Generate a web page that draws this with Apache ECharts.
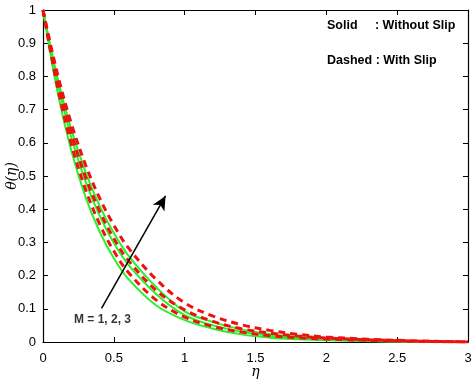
<!DOCTYPE html>
<html><head><meta charset="utf-8">
<script src="https://cdn.jsdelivr.net/npm/echarts@6/dist/echarts.min.js"></script>
<style>html,body{margin:0;padding:0;background:#fff}#c{width:474px;height:387px}</style>
</head><body><div id="c"></div>
<script>
const eta = [0, 0.1, 0.2, 0.3, 0.4, 0.5, 0.6, 0.8, 1.0, 1.2, 1.4, 1.6, 1.8, 2.0, 2.5, 3.0];
const solidM1 = [1, 0.759, 0.576, 0.437, 0.332, 0.252, 0.191, 0.110, 0.066, 0.040, 0.023, 0.013, 0.008, 0.005, 0.001, 0];
const solidM2 = [1, 0.785, 0.616, 0.484, 0.380, 0.298, 0.234, 0.144, 0.081, 0.050, 0.031, 0.019, 0.012, 0.007, 0.002, 0];
const solidM3 = [1, 0.800, 0.640, 0.512, 0.410, 0.328, 0.262, 0.165, 0.092, 0.060, 0.038, 0.024, 0.015, 0.009, 0.003, 0];
const dashM1 = [1, 0.772, 0.596, 0.460, 0.355, 0.274, 0.211, 0.126, 0.075, 0.047, 0.030, 0.019, 0.013, 0.009, 0.003, 0];
const dashM2 = [1, 0.792, 0.628, 0.497, 0.394, 0.312, 0.247, 0.155, 0.097, 0.062, 0.040, 0.027, 0.018, 0.012, 0.004, 0];
const dashM3 = [1, 0.811, 0.658, 0.534, 0.433, 0.352, 0.285, 0.188, 0.118, 0.078, 0.052, 0.035, 0.023, 0.015, 0.005, 0];
const xTicks = [0, 0.5, 1, 1.5, 2, 2.5, 3];
const yTicks = [0, 0.1, 0.2, 0.3, 0.4, 0.5, 0.6, 0.7, 0.8, 0.9, 1];
const arrowStart = [0.413, 0.101];
const arrowEnd = [0.865, 0.440];
const mLabelPos = [0.42, 0.068];
const mLabel = 'M = 1, 2, 3';
const note1 = 'Solid     : Without Slip';
const note2 = 'Dashed : With Slip';

const pair = a => eta.map((x, i) => [x, a[i]]);
const font = 'Liberation Sans, Arial, sans-serif';
const green = '#2af02a', red = '#ee1111';
function solid(name, d) {
  return {name, type: 'line', data: pair(d), smooth: 0.35, symbol: 'none',
    lineStyle: {color: green, width: 2}, z: 2};
}
function dashed(name, d) {
  return {name, type: 'line', data: pair(d), smooth: 0.35, symbol: 'none',
    lineStyle: {color: red, width: 3, type: [7, 5]}, z: 3};
}
const axCommon = {
  min: 0, axisLine: {show: true, onZero: false, lineStyle: {color: '#000', width: 1.2}},
  axisTick: {show: true, inside: true, length: 5, lineStyle: {color: '#000'}},
  splitLine: {show: false}
};
const chart = echarts.init(document.getElementById('c'));
chart.setOption({
  animation: false,
  backgroundColor: '#fff',
  grid: {left: 43, right: 6, top: 10, bottom: 45, containLabel: false, outerBoundsMode: 'none'},
  xAxis: [
    Object.assign({}, axCommon, {type: 'value', max: 3, interval: 0.5, position: 'bottom',
      axisLabel: {color: '#000', fontSize: 13, fontFamily: font, margin: 10,
        formatter: v => xTicks.includes(v) ? String(v) : ''},
      name: 'η', nameLocation: 'middle', nameGap: 23, nameMoveOverlap: false,
      nameTextStyle: {color: '#000', fontSize: 14, fontStyle: 'italic', fontFamily: 'DejaVu Serif, serif'}}),
    Object.assign({}, axCommon, {type: 'value', max: 3, interval: 0.5, position: 'top', axisLabel: {show: false}})
  ],
  yAxis: [
    Object.assign({}, axCommon, {type: 'value', max: 1, interval: 0.1, position: 'left',
      axisLabel: {color: '#000', fontSize: 13, fontFamily: font, margin: 7,
        formatter: v => { const t = yTicks.find(y => Math.abs(y - v) < 1e-6); return t === undefined ? '' : String(t); }},
      name: 'θ(η)', nameLocation: 'middle', nameGap: 24, nameRotate: 90, nameMoveOverlap: false,
      nameTextStyle: {color: '#000', fontSize: 14, fontStyle: 'italic', fontFamily: 'DejaVu Serif, serif'}}),
    Object.assign({}, axCommon, {type: 'value', max: 1, interval: 0.1, position: 'right', axisLabel: {show: false}})
  ],
  series: [
    solid('S1', solidM1), solid('S2', solidM2), solid('S3', solidM3),
    dashed('D1', dashM1), dashed('D2', dashM2), dashed('D3', dashM3),
    {type: 'line', data: [], silent: true,
      markLine: {silent: true, symbol: ['none', 'arrow'], symbolSize: [10, 14],
        lineStyle: {color: '#000', width: 1.5, type: 'solid'}, label: {show: false},
        data: [[{coord: arrowStart}, {coord: arrowEnd}]]}},
    {type: 'scatter', silent: true, symbolSize: 0, data: [mLabelPos],
      label: {show: true, position: 'inside', formatter: mLabel, color: '#000', fontWeight: 'bold', fontSize: 12, fontFamily: font}}
  ],
  graphic: [
    {type: 'text', left: 327, top: 19, style: {text: note1, font: 'bold 12.5px ' + font, fill: '#000'}},
    {type: 'text', left: 327, top: 54, style: {text: note2, font: 'bold 12.5px ' + font, fill: '#000'}}
  ]
});
</script></body></html>
